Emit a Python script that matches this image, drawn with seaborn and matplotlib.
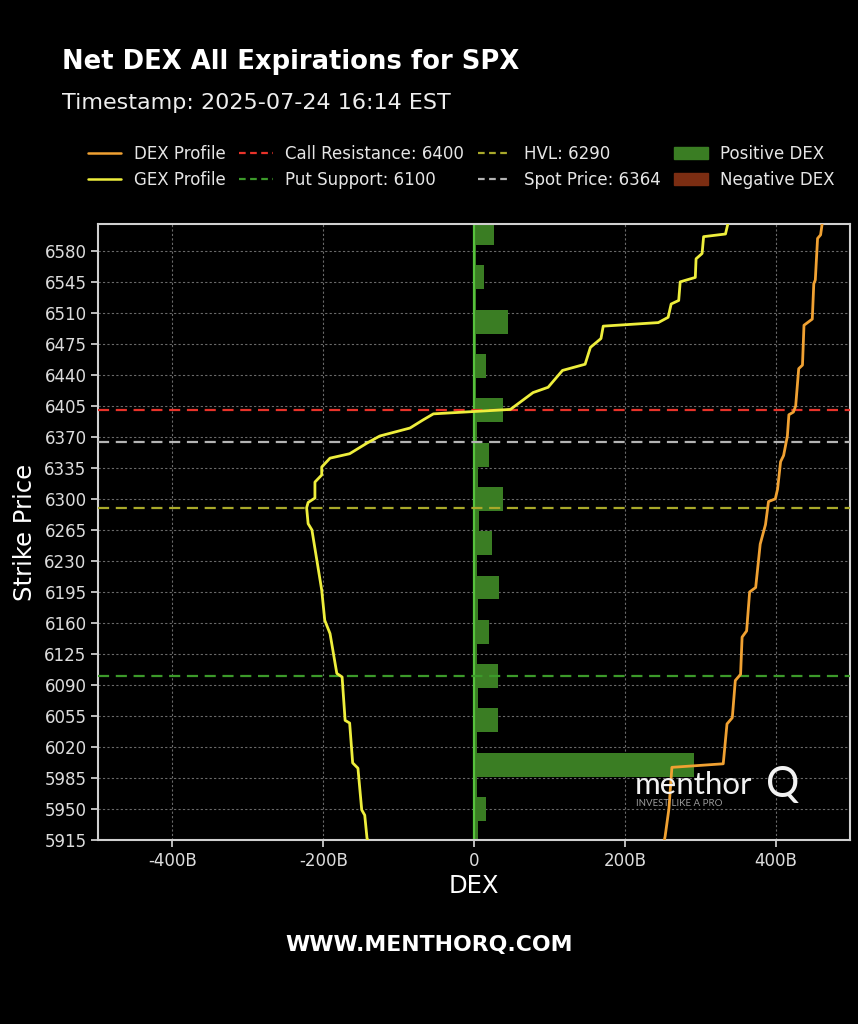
import numpy as np
import pandas as pd
import matplotlib
matplotlib.use('Agg')
import matplotlib.pyplot as plt
import seaborn as sns
from matplotlib.lines import Line2D
from matplotlib.patches import Patch

# strikes and net DEX per strike (billions)
bar_strikes = [5925, 5950, 5975, 6000, 6025, 6050, 6075, 6100, 6125, 6150, 6175, 6200,
               6225, 6250, 6275, 6300, 6325, 6350, 6375, 6400, 6425, 6450, 6475, 6500,
               6525, 6550, 6575, 6600]
bar_dex = [5, 15.2, 4, 291.3, 4, 31.5, 5, 31.5, 4, 20, 5, 33.3,
           4, 23.2, 6, 37.8, 5, 20, 4, 37.8, 3, 15.2, 3, 44.4,
           3, 13.4, 3, 26.2]

# cumulative DEX profile
dex_strikes = [5915, 5919, 5950, 5997, 6001, 6046, 6053, 6095, 6102, 6144, 6151, 6195,
               6200, 6249, 6271, 6297, 6300, 6311, 6342, 6349, 6371, 6395, 6398, 6405,
               6447, 6451, 6496, 6503, 6543, 6547, 6594, 6598, 6610]
dex_profile = [252, 253, 258, 262, 330, 335, 342, 346, 353, 355, 361, 365,
               373, 379, 386, 390, 399, 402, 406, 410, 415, 417, 423, 426,
               430, 435, 437, 448, 450, 452, 455, 459, 461]

# GEX profile
gex_strikes = [5915, 5917, 5943, 5949, 5996, 6002, 6047, 6050, 6099, 6103, 6148, 6163,
               6197, 6265, 6272, 6290, 6296, 6301, 6319, 6327, 6336, 6346, 6351, 6363,
               6371, 6380, 6389, 6396, 6401, 6420, 6426, 6445, 6452, 6471, 6481, 6495,
               6499, 6505, 6520, 6524, 6545, 6550, 6571, 6577, 6596, 6599, 6610]
gex_profile = [-141, -142, -145, -149, -154, -161, -165, -171, -175, -182, -191, -198,
               -202, -215, -220, -222, -220, -211, -211, -202, -202, -191, -165, -142,
               -125, -85, -68, -54, 48, 78, 98, 117, 147, 154, 168, 171,
               244, 257, 261, 271, 273, 293, 294, 302, 304, 333, 336]

call_resistance = 6400
put_support = 6100
hvl = 6290
spot_price = 6364

y_ticks = list(range(5915, 6581, 35))
x_ticks = [-400, -200, 0, 200, 400]
x_tick_labels = ['-400B', '-200B', '0', '200B', '400B']

sns.set_style('dark')
plt.rcParams['font.family'] = ['DejaVu Sans']

fig = plt.figure(figsize=(8.58, 10.24), dpi=100, facecolor='black')
ax = fig.add_axes([0.1146, 0.1797, 0.8761, 0.6013])
ax.set_facecolor('black')

# bars
pos_col = '#3a7d23'
neg_col = '#7b2d12'
bar_cols = [pos_col if v >= 0 else neg_col for v in bar_dex]
ax.barh(bar_strikes, bar_dex, height=27, color=bar_cols, edgecolor='none', linewidth=0, zorder=2)
ax.axvline(0, color='#56c23c', lw=1.6, zorder=2.5)

df_dex = pd.DataFrame({'strike': dex_strikes, 'dex': dex_profile})
df_gex = pd.DataFrame({'strike': gex_strikes, 'gex': gex_profile})
sns.lineplot(data=df_dex, x='dex', y='strike', sort=False, estimator=None,
             color='#f0a132', lw=2.0, ax=ax, zorder=4)
sns.lineplot(data=df_gex, x='gex', y='strike', sort=False, estimator=None,
             color='#eeee3c', lw=2.0, ax=ax, zorder=4)

ax.axhline(call_resistance, color='#e8332a', ls='--', lw=1.6, dashes=(5, 3), zorder=3)
ax.axhline(put_support, color='#3c9a2a', ls='--', lw=1.6, dashes=(5, 3), zorder=3)
ax.axhline(hvl, color='#a9a92a', ls='--', lw=1.6, dashes=(5, 3), zorder=3)
ax.axhline(spot_price, color='#b4b4b4', ls='--', lw=1.6, dashes=(5, 3), zorder=3)

ax.set_xlim(-498, 498)
ax.set_ylim(5915, 6610)
ax.set_yticks(y_ticks)
ax.set_xticks(x_ticks)
ax.set_xticklabels(x_tick_labels)
ax.tick_params(colors='#dddddd', labelsize=12, length=5, width=1.2, left=True, bottom=True)
ax.grid(True, color='#6a6a6a', ls=(0, (2, 2)), lw=0.8, zorder=1)
for s in ax.spines.values():
    s.set_color('#d0d0d0')
    s.set_linewidth(1.5)
    s.set_visible(True)
ax.set_xlabel('DEX', color='white', fontsize=17.5, labelpad=3)
ax.set_ylabel('Strike Price', color='white', fontsize=17.5, labelpad=5)

# legend
handles = [
    Line2D([], [], color='#f0a132', lw=1.8),
    Line2D([], [], color='#eeee3c', lw=1.8),
    Line2D([], [], color='#e8332a', lw=1.6, ls='--', dashes=(3, 2)),
    Line2D([], [], color='#3c9a2a', lw=1.6, ls='--', dashes=(3, 2)),
    Line2D([], [], color='#a9a92a', lw=1.6, ls='--', dashes=(3, 2)),
    Line2D([], [], color='#b4b4b4', lw=1.6, ls='--', dashes=(3, 2)),
    Patch(color=pos_col),
    Patch(color=neg_col),
]
labels = ['DEX Profile', 'GEX Profile',
          'Call Resistance: %d' % call_resistance, 'Put Support: %d' % put_support,
          'HVL: %d' % hvl, 'Spot Price: %d' % spot_price,
          'Positive DEX', 'Negative DEX']
leg = fig.legend(handles, labels, ncol=4, loc='upper left', bbox_to_anchor=(0.085, 0.873),
                 frameon=False, fontsize=12, columnspacing=0.83, handletextpad=0.75,
                 labelspacing=0.45, handlelength=2.0)
for t in leg.get_texts():
    t.set_color('#e6e6e6')

fig.text(0.072, 0.933, 'Net DEX All Expirations for SPX', color='white', fontsize=18.6,
         fontweight='bold', va='baseline')
fig.text(0.072, 0.894, 'Timestamp: 2025-07-24 16:14 EST', color='#eeeeee', fontsize=16,
         va='baseline')
fig.text(0.5, 0.071, 'WWW.MENTHORQ.COM', color='white', fontsize=15.8, fontweight='bold',
         ha='center', va='baseline')

# watermark
ax.text(0.740, 0.2245, 'menthor', color='#f2f2f2', fontsize=22.5, family='Lato',
        va='baseline', transform=fig.transFigure, zorder=6)
ax.text(0.741, 0.2125, 'INVEST LIKE A PRO', color='#9a9a9a', fontsize=7, family='Lato',
        va='baseline', transform=fig.transFigure, zorder=6)
ax.text(0.893, 0.2215, 'Q', color='#f2f2f2', fontsize=30, family='Lato',
        va='baseline', transform=fig.transFigure, zorder=6)

fig.savefig('out.png', dpi=100, facecolor='black')
